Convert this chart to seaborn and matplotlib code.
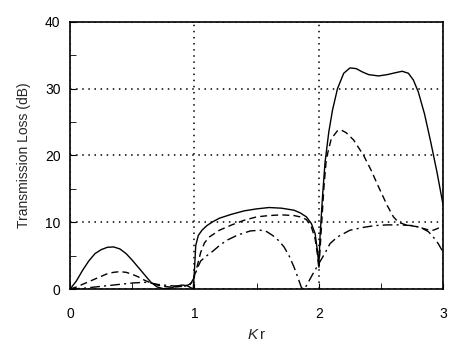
import numpy as np
import pandas as pd
import matplotlib
matplotlib.use("Agg")
import matplotlib.pyplot as plt
import seaborn as sns

# values
kr_solid = [0.0, 0.05, 0.1, 0.15, 0.2, 0.25, 0.3, 0.35, 0.4, 0.45, 0.5, 0.55, 0.6, 0.65, 0.7,
            0.75, 0.8, 0.85, 0.9, 0.94, 0.97, 0.99, 1.0, 1.01, 1.03, 1.06, 1.1, 1.15, 1.2, 1.3,
            1.4, 1.5, 1.6, 1.7, 1.8, 1.85, 1.9, 1.94, 1.97, 1.99, 2.0, 2.01, 2.03, 2.05, 2.08,
            2.11, 2.15, 2.2, 2.25, 2.3, 2.35, 2.4, 2.48, 2.55, 2.62, 2.67, 2.72, 2.76, 2.8,
            2.85, 2.9, 2.95, 3.0]
tl_solid = [0.0, 1.2, 2.8, 4.2, 5.3, 5.9, 6.25, 6.3, 6.0, 5.3, 4.3, 3.2, 2.1, 1.0, 0.3,
            0.05, 0.1, 0.4, 0.6, 0.5, 0.2, 0.0, 3.0, 6.5, 8.0, 8.8, 9.5, 10.1, 10.6, 11.2,
            11.7, 12.0, 12.2, 12.1, 11.8, 11.4, 10.8, 9.8, 8.3, 5.5, 3.5, 8.0, 14.0, 19.0, 23.5,
            26.8, 30.0, 32.3, 33.1, 33.0, 32.5, 32.1, 31.9, 32.1, 32.4, 32.6, 32.3, 31.3, 29.5,
            26.2, 22.0, 17.5, 12.5]

kr_dash = [0.0, 0.05, 0.1, 0.15, 0.2, 0.25, 0.3, 0.35, 0.4, 0.45, 0.5, 0.55, 0.6, 0.65, 0.7,
           0.75, 0.8, 0.85, 0.9, 0.95, 0.98, 1.0, 1.02, 1.05, 1.08, 1.12, 1.2, 1.3, 1.4, 1.5,
           1.6, 1.7, 1.8, 1.85, 1.9, 1.94, 1.97, 1.99, 2.0, 2.02, 2.04, 2.06, 2.1, 2.15, 2.18,
           2.22, 2.28, 2.36, 2.42, 2.48, 2.55, 2.6, 2.64, 2.7, 2.8, 2.87, 2.92, 2.96, 3.0]
tl_dash = [0.0, 0.3, 0.7, 1.1, 1.5, 1.9, 2.3, 2.5, 2.6, 2.5, 2.2, 1.8, 1.3, 0.9, 0.6,
           0.4, 0.3, 0.3, 0.4, 0.6, 1.0, 2.0, 3.3, 5.5, 6.9, 7.8, 8.8, 9.6, 10.3, 10.8,
           11.0, 11.1, 11.0, 10.8, 10.4, 9.3, 7.5, 5.0, 3.0, 9.0, 15.0, 19.5, 22.5, 23.7, 23.8,
           23.4, 22.3, 20.0, 17.8, 15.3, 12.5, 10.8, 10.0, 9.6, 9.3, 8.9, 8.8, 9.1, 9.6]

kr_dashdot = [0.0, 0.1, 0.2, 0.3, 0.4, 0.5, 0.6, 0.65, 0.7, 0.8, 0.9, 0.96, 1.0, 1.02, 1.05,
              1.1, 1.15, 1.2, 1.26, 1.35, 1.45, 1.53, 1.58, 1.63, 1.68, 1.72, 1.76, 1.8, 1.83,
              1.86, 1.88, 1.9, 1.95, 2.0, 2.05, 2.09, 2.15, 2.25, 2.35, 2.45, 2.55, 2.65, 2.75,
              2.82, 2.88, 2.92, 2.96, 3.0]
tl_dashdot = [0.0, 0.1, 0.3, 0.5, 0.7, 0.9, 1.0, 0.9, 0.7, 0.5, 0.4, 0.5, 1.8, 3.0, 4.2,
              5.0, 5.7, 6.5, 7.3, 8.1, 8.7, 8.8, 8.6, 8.0, 7.2, 6.3, 5.0, 3.3, 1.8,
              0.2, 0.0, 0.5, 2.2, 3.8, 5.4, 6.8, 7.8, 8.8, 9.2, 9.5, 9.6, 9.6, 9.5,
              9.2, 8.6, 7.8, 6.8, 5.5]

df = pd.concat([
    pd.DataFrame({"kr": kr_solid, "tl": tl_solid, "case": "a"}),
    pd.DataFrame({"kr": kr_dash, "tl": tl_dash, "case": "b"}),
    pd.DataFrame({"kr": kr_dashdot, "tl": tl_dashdot, "case": "c"}),
], ignore_index=True)

sns.set_style("ticks")
plt.rcParams['font.family'] = ['Liberation Sans', 'DejaVu Sans']
plt.rcParams['mathtext.fontset'] = 'custom'
plt.rcParams['mathtext.rm'] = 'Liberation Sans'
plt.rcParams['mathtext.it'] = 'Liberation Sans:italic'

fig = plt.figure(figsize=(4.74, 3.64), dpi=100)
ax = fig.add_axes([0.148, 0.206, 0.787, 0.734])

sns.lineplot(data=df, x="kr", y="tl", style="case", color="black", linewidth=1.0,
             dashes={"a": "", "b": (5, 3), "c": (7, 3, 1.5, 3)},
             legend=False, estimator=None, sort=False, ax=ax)

ax.set_xlim(0, 3)
ax.set_ylim(0, 40)
ax.set_xticks([0, 1, 2, 3])
ax.set_xticks([0.5, 1.5, 2.5], minor=True)
ax.set_yticks([0, 10, 20, 30, 40])
ax.set_yticks([5, 15, 25, 35], minor=True)
ax.tick_params(which="both", direction="in", labelsize=10, colors="black")
ax.tick_params(axis="x", pad=13)
ax.tick_params(axis="y", pad=7)
ax.tick_params(which="both", length=4)
ax.grid(True, which="major", color="black", linestyle=(0, (1, 3)), linewidth=1.1)
for s in ax.spines.values():
    s.set_linewidth(1.2)
    s.set_color("black")

ax.set_xlabel(r"$\mathit{K}\,\mathrm{r}$", fontsize=11, labelpad=5)
ax.set_ylabel("Transmission Loss (dB)", fontsize=10, labelpad=10)

fig.savefig("out.png", dpi=100)
